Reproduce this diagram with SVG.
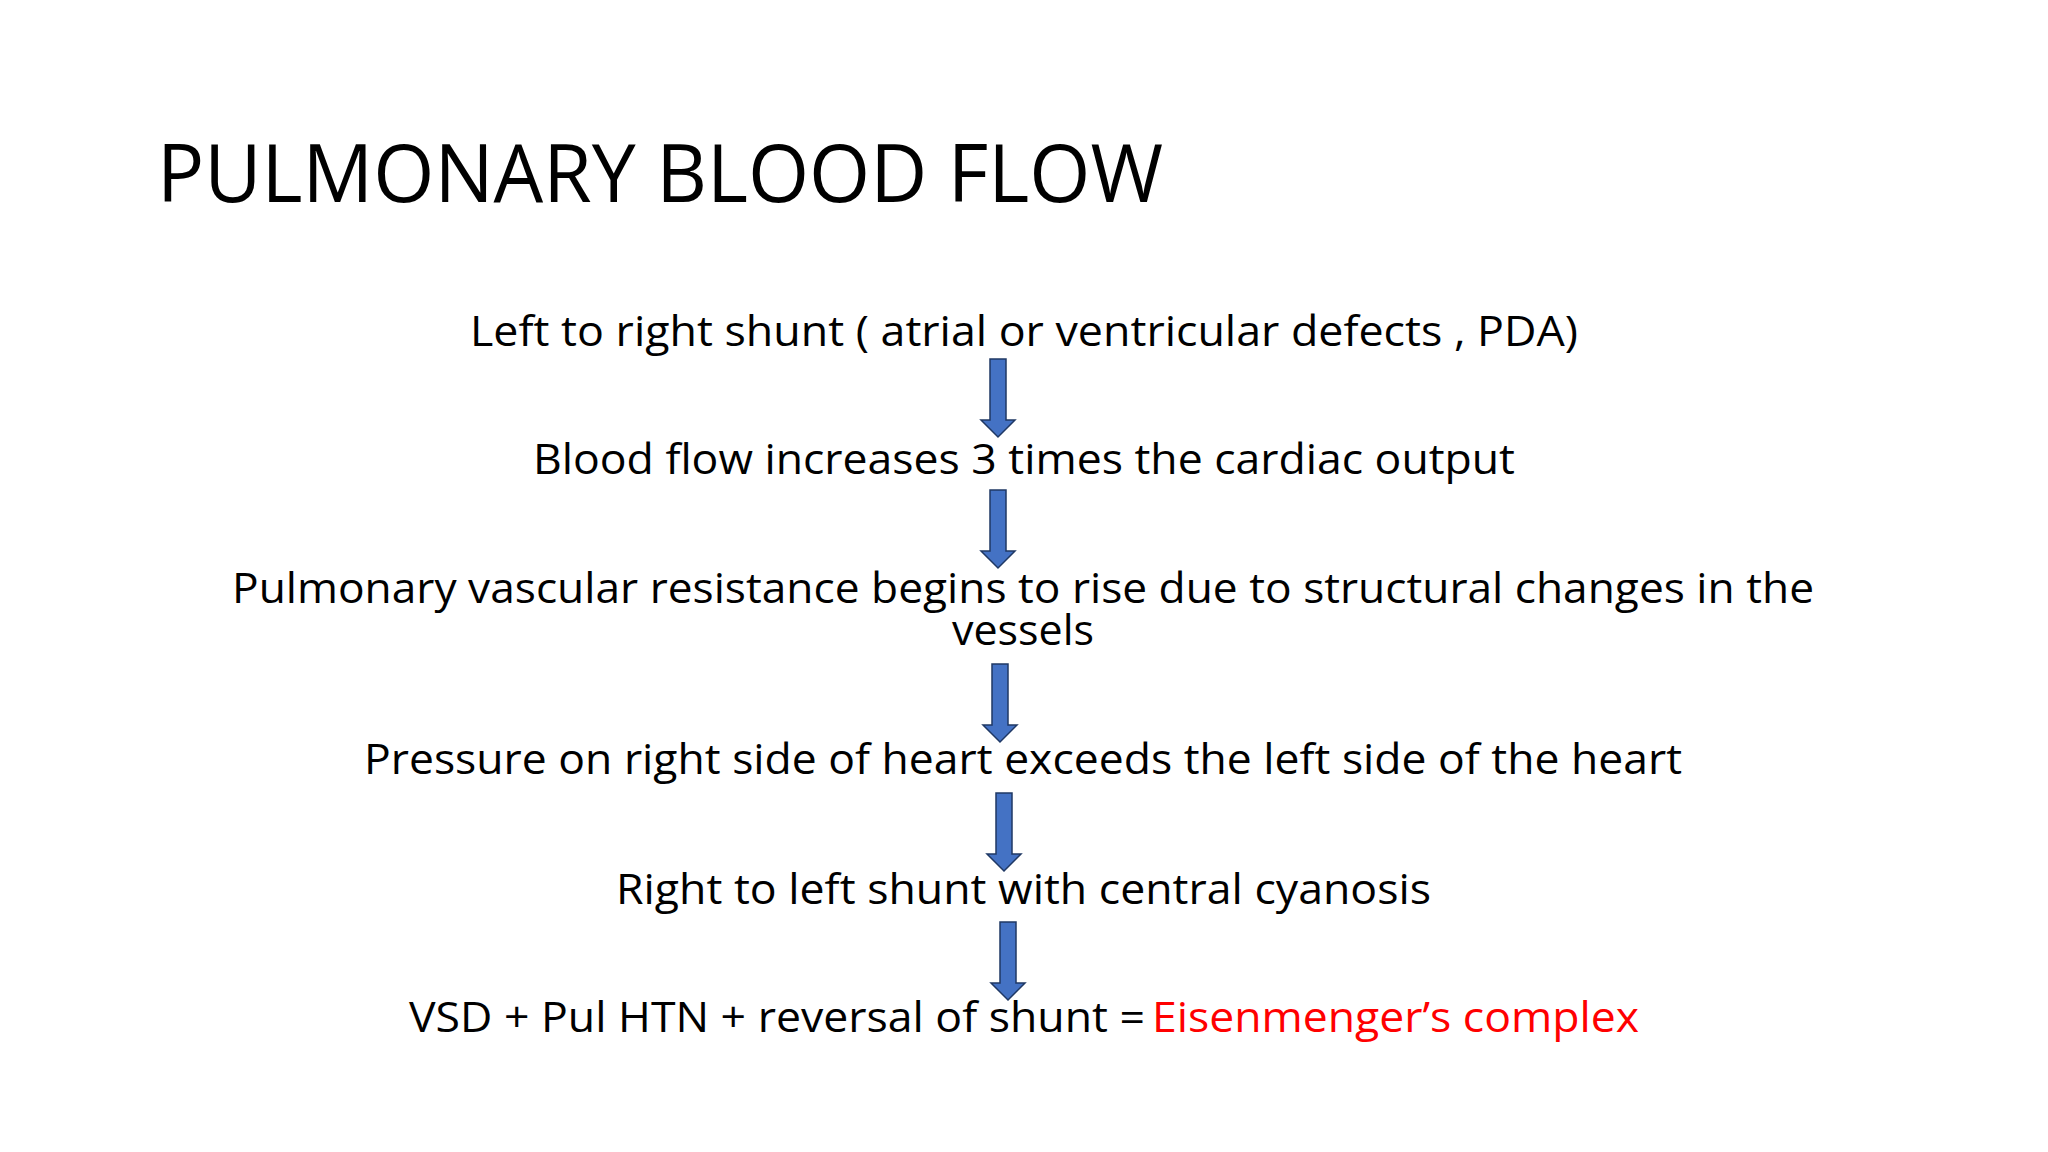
<svg xmlns="http://www.w3.org/2000/svg" width="2048" height="1152" viewBox="0 0 2048 1152">
<style>
text{font-family:"Open Sans","Liberation Sans",sans-serif;fill:#000}
.b{font-size:42px}
.t{font-size:80px}
.a{fill:#4472C4;stroke:#1F3864;stroke-width:1.5}
</style>
<defs><path id="arr" class="a" d="M-8,0 H8 V61 H17 L0,78 L-17,61 H-8 Z"/></defs>
<rect width="2048" height="1152" fill="#fff"/>
<g id="title"><text class="t" x="157" y="202" textLength="1006" lengthAdjust="spacingAndGlyphs">PULMONARY BLOOD FLOW</text></g>
<g id="n1"><text class="b" x="470" y="346" textLength="1108" lengthAdjust="spacingAndGlyphs">Left to right shunt ( atrial or ventricular defects , PDA)</text></g>
<g id="n2"><text class="b" x="533" y="474" textLength="982" lengthAdjust="spacingAndGlyphs">Blood flow increases 3 times the cardiac output</text></g>
<g id="n3"><text class="b" x="232" y="603" textLength="1582" lengthAdjust="spacingAndGlyphs">Pulmonary vascular resistance begins to rise due to structural changes in the</text>
<text class="b" x="952" y="645" textLength="142" lengthAdjust="spacingAndGlyphs">vessels</text></g>
<g id="n4"><text class="b" x="364" y="774" textLength="1318" lengthAdjust="spacingAndGlyphs">Pressure on right side of heart exceeds the left side of the heart</text></g>
<g id="n5"><text class="b" x="616" y="904" textLength="815" lengthAdjust="spacingAndGlyphs">Right to left shunt with central cyanosis</text></g>
<g id="n6"><text class="b" x="409" y="1032" textLength="736" lengthAdjust="spacingAndGlyphs">VSD + Pul HTN + reversal of shunt =</text>
<text class="b" x="1152" y="1032" textLength="487" lengthAdjust="spacingAndGlyphs" style="fill:#FF0000">Eisenmenger’s complex</text></g>
<g id="connectors">
<use href="#arr" x="998" y="359"/>
<use href="#arr" x="998" y="490"/>
<use href="#arr" x="1000" y="664"/>
<use href="#arr" x="1004" y="793"/>
<use href="#arr" x="1008" y="922"/>
</g>
</svg>
